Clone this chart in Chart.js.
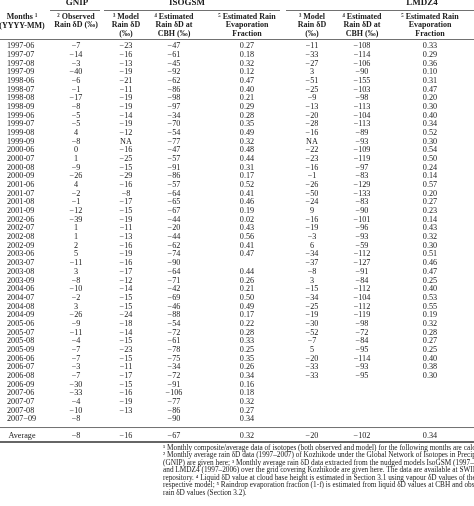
<!DOCTYPE html>
<html><head><meta charset="utf-8">
<script src="https://cdn.jsdelivr.net/npm/chart.js@4"></script>
<style>html,body{margin:0;padding:0;background:#fff;overflow:hidden}</style>
</head><body>
<canvas id="c" width="474" height="506"></canvas>
<script>
const months = ["1997-06","1997-07","1997-08","1997-09","1998-06","1998-07","1998-08","1998-09","1999-06","1999-07","1999-08","1999-09","2000-06","2000-07","2000-08","2000-09","2001-06","2001-07","2001-08","2001-09","2002-06","2002-07","2002-08","2002-09","2003-06","2003-07","2003-08","2003-09","2004-06","2004-07","2004-08","2004-09","2005-06","2005-07","2005-08","2005-09","2006-06","2006-07","2006-08","2006-09","2007-06","2007-07","2007-08","2007\u2212 09".replace("\u2212 ","\u2212")];
const gnipObs = [-7,-14,-3,-40,-6,-1,-17,-8,-5,-5,4,-8,0,1,-9,-26,4,-2,-1,-12,-39,1,1,2,5,-11,3,-8,-10,-2,3,-26,-9,-11,-4,-7,-7,-3,-7,-30,-33,-4,-10,-8];
const isoModel = [-23,-16,-13,-19,-21,-11,-19,-19,-14,-19,-12,"NA",-16,-25,-15,-29,-16,-8,-17,-15,-19,-11,-13,-16,-19,-16,-17,-12,-14,-15,-15,-24,-18,-14,-15,-23,-15,-11,-17,-15,-16,-19,-13,null];
const isoCBH = [-47,-61,-45,-92,-62,-86,-98,-97,-34,-70,-54,-77,-47,-57,-91,-86,-57,-64,-65,-67,-44,-20,-44,-62,-74,-90,-64,-71,-42,-69,-46,-88,-54,-72,-61,-78,-75,-34,-72,-91,-106,-77,-86,-90];
const isoFrac = [0.27,0.18,0.32,0.12,0.47,0.40,0.21,0.29,0.28,0.35,0.49,0.32,0.48,0.44,0.31,0.17,0.52,0.41,0.46,0.19,0.02,0.43,0.56,0.41,0.47,null,0.44,0.26,0.21,0.50,0.49,0.17,0.22,0.28,0.33,0.25,0.35,0.26,0.34,0.16,0.18,0.32,0.27,0.34];
const lmdzModel = [-11,-33,-27,3,-51,-25,-9,-13,-20,-28,-16,"NA",-22,-23,-16,-1,-26,-50,-24,9,-16,-19,-3,6,-34,-37,-8,3,-15,-34,-25,-19,-30,-52,-7,5,-20,-33,-33];
const lmdzCBH = [-108,-114,-106,-90,-155,-103,-98,-113,-104,-113,-89,-93,-109,-119,-97,-83,-129,-133,-83,-90,-101,-96,-93,-59,-112,-127,-91,-84,-112,-104,-112,-119,-98,-72,-84,-95,-114,-93,-95];
const lmdzFrac = [0.33,0.29,0.36,0.10,0.31,0.47,0.20,0.30,0.40,0.34,0.52,0.30,0.54,0.50,0.24,0.14,0.57,0.20,0.27,0.23,0.14,0.43,0.32,0.30,0.51,0.46,0.47,0.25,0.40,0.53,0.55,0.19,0.32,0.28,0.27,0.25,0.40,0.38,0.30];
const averages = [-8,-16,-67,0.32,-20,-102,0.34];
const columnHeaders = [["\u00b2 Observed","Rain \u03b4D (\u2030)"],["\u00b3 Model","Rain \u03b4D","(\u2030)"],["\u2074 Estimated","Rain \u03b4D at","CBH (\u2030)"],["\u2075 Estimated Rain","Evaporation","Fraction"],["\u00b3 Model","Rain \u03b4D","(\u2030)"],["\u2074 Estimated","Rain \u03b4D at","CBH (\u2030)"],["\u2075 Estimated Rain","Evaporation","Fraction"]];
const groups = ["GNIP","ISOGSM","LMDZ4"];
const footnotes = [
"\u00b9 Monthly composite/average data of isotopes (both observed and model) for the following months are calculated;",
"\u00b2 Monthly average rain \u03b4D data (1997\u20132007) of Kozhikode under the Global Network of Isotopes in Precipitation",
"(GNIP) are given here; \u00b3 Monthly average rain \u03b4D data extracted from the nudged models IsoGSM (1997\u20132007)",
"and LMDZ4 (1997\u20132006) over the grid covering Kozhikode are given here. The data are available at SWING2",
"repository. \u2074 Liquid \u03b4D value at cloud base height is estimated in Section 3.1 using vapour \u03b4D values of the",
"respective model; \u2075 Raindrop evaporation fraction (1-f) is estimated from liquid \u03b4D values at CBH and observed",
"rain \u03b4D values (Section 3.2)."];

const colX = [76,126,174,247,312,362,430];
const cols = [gnipObs,isoModel,isoCBH,isoFrac,lmdzModel,lmdzCBH,lmdzFrac];
const fracCols = [3,6];
function fmt(v,ci){ if(v===null||v===undefined) return ""; if(typeof v==="string") return v;
  let s = fracCols.includes(ci)? v.toFixed(2) : String(Math.abs(v)); if(!fracCols.includes(ci)&&v<0) s="\u2212"+s; return s; }

const tablePlugin = {id:"table", afterDraw(chart){
  const ctx=chart.ctx, xs=chart.scales.x, ys=chart.scales.y;
  ctx.save(); ctx.fillStyle="#1a1a1a"; ctx.textBaseline="middle";
  const F="Liberation Serif, serif";
  ctx.font="bold 9px "+F; ctx.textAlign="center";
  [[77,0],[187,1],[422,2]].forEach(([x,i])=>ctx.fillText(groups[i],xs.getPixelForValue(x),3));
  ctx.strokeStyle="#333"; ctx.lineWidth=0.7;
  [[50,100],[104,280],[286,474]].forEach(([a,b])=>{ctx.beginPath();ctx.moveTo(a,10.5);ctx.lineTo(b,10.5);ctx.stroke();});
  ctx.font="bold 8px "+F;
  ctx.fillText("Months \u00b9",22,17); ctx.fillText("(YYYY-MM)",22,25.5);
  columnHeaders.forEach((h,ci)=>h.forEach((t,k)=>ctx.fillText(t,xs.getPixelForValue(colX[ci]),17+k*8.3)));
  ctx.beginPath();ctx.moveTo(0,39.5);ctx.lineTo(474,39.5);ctx.stroke();
  ctx.font="8.2px "+F;
  months.forEach((m,ri)=>{const y=ys.getPixelForValue(ri);
    ctx.textAlign="left"; ctx.fillText(m,7,y); ctx.textAlign="center";
    cols.forEach((c,ci)=>ctx.fillText(fmt(c[ri],ci),xs.getPixelForValue(colX[ci]),y));});
  const ay=ys.getPixelForValue(44.9);
  ctx.beginPath();ctx.moveTo(0,ys.getPixelForValue(43.95));ctx.lineTo(474,ys.getPixelForValue(43.95));ctx.stroke();
  ctx.textAlign="center"; ctx.fillText("Average",22,ay);
  averages.forEach((v,ci)=>ctx.fillText(fmt(v,ci),xs.getPixelForValue(colX[ci]),ay));
  ctx.lineWidth=1.6; ctx.beginPath();ctx.moveTo(0,442);ctx.lineTo(474,442);ctx.stroke();
  ctx.font="7.3px "+F; ctx.textAlign="left";
  footnotes.forEach((t,i)=>ctx.fillText(t,163,448+i*7.5));
  ctx.restore();
}};

new Chart(document.getElementById("c"),{
  type:"scatter",
  data:{datasets:[{data:months.map((m,i)=>({x:colX[0],y:i})),pointRadius:0}]},
  options:{responsive:false,animation:false,events:[],layout:{padding:0},
    plugins:{legend:{display:false},tooltip:{enabled:false}},
    scales:{x:{type:"linear",min:0,max:474,display:false},
            y:{type:"linear",min:-5.30,max:52.99,reverse:true,display:false}}},
  plugins:[tablePlugin]
});
</script>
</body></html>
